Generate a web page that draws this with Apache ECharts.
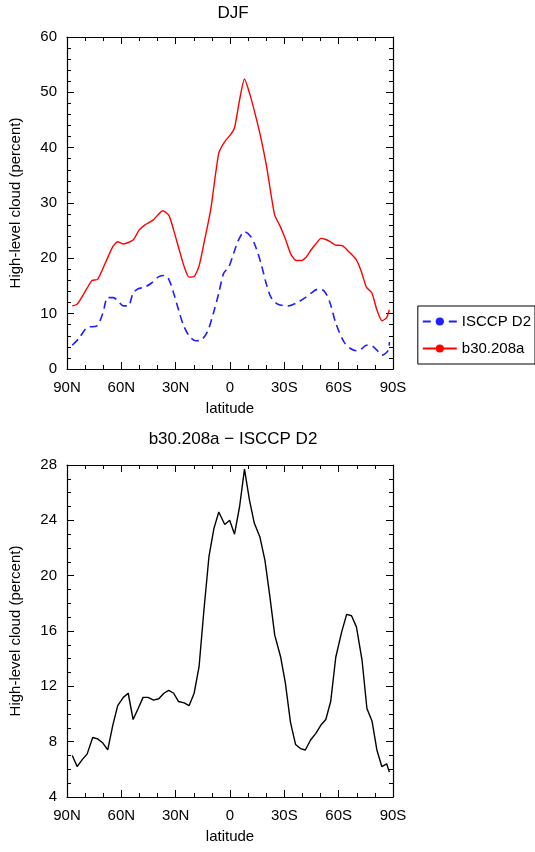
<!DOCTYPE html>
<html>
<head>
<meta charset="utf-8">
<script src="https://cdn.jsdelivr.net/npm/echarts@6/dist/echarts.min.js"></script>
<style>
  html, body { margin: 0; padding: 0; background: #fff; }
  #chart { width: 535px; height: 852px; }
</style>
</head>
<body>
<div id="chart"></div>
<script>
// x = degrees from equator, negative = north, positive = south
var isccpLat = [-87.1, -83.5, -78.9, -73.5, -70.2, -67.5, -64.4, -61.6, -58.9, -56.2, -53.5, -50.7, -47.1, -43.5, -39.3, -36.2, -33.8, -31.1, -28.4, -25.8, -22.6, -18.9, -16.2, -12.5, -8.9, -6.2, -3.5, -0.7, 2.0, 4.7, 8.0, 11.1, 13.8, 17.1, 20.2, 22.9, 26.5, 32.0, 36.5, 41.1, 44.7, 48.4, 52.0, 55.3, 58.4, 62.9, 66.5, 69.8, 72.9, 75.3, 78.4, 81.1, 84.0, 87.4, 88.0];
var isccpVal = [4.3, 5.5, 7.5, 7.8, 10.1, 12.9, 12.9, 12.2, 11.4, 11.4, 13.7, 14.5, 14.8, 15.5, 16.7, 16.9, 16.2, 13.7, 10.7, 8.0, 6.0, 5.1, 5.2, 6.7, 10.4, 13.7, 17.3, 18.4, 20.9, 23.3, 24.8, 24.1, 22.4, 19.1, 15.2, 12.8, 11.7, 11.4, 11.9, 12.8, 13.7, 14.4, 14.1, 11.9, 8.3, 4.9, 3.7, 3.3, 3.7, 4.3, 4.2, 3.4, 2.5, 3.4, 4.9];

var modelLat = [-87.1, -84.4, -81.6, -78.9, -76.2, -73.1, -68.9, -64.7, -62.0, -58.9, -53.5, -50.2, -47.1, -42.5, -37.1, -33.8, -31.1, -28.0, -25.3, -22.6, -19.8, -17.1, -14.4, -10.7, -6.2, -2.9, 0.2, 2.5, 5.6, 8.0, 11.1, 13.8, 16.9, 20.2, 22.0, 24.7, 27.4, 30.5, 33.4, 36.5, 39.3, 42.0, 44.7, 47.4, 50.2, 52.9, 55.3, 58.3, 62.0, 65.6, 69.8, 72.5, 75.3, 78.4, 81.1, 84.0, 86.5, 88.0];
var modelVal = [11.4, 11.7, 13.1, 14.6, 16.0, 16.2, 19.1, 22.1, 23.0, 22.6, 23.3, 25.1, 26.0, 26.9, 28.6, 27.8, 25.1, 21.5, 18.5, 16.6, 16.7, 18.6, 22.7, 28.7, 39.0, 41.1, 42.3, 43.6, 49.2, 52.4, 49.5, 46.2, 42.0, 36.6, 32.9, 27.8, 26.0, 23.6, 20.9, 19.6, 19.6, 20.2, 21.5, 22.6, 23.6, 23.4, 23.0, 22.4, 22.3, 21.2, 19.7, 17.6, 14.8, 13.7, 10.7, 8.7, 9.3, 10.7];

var diffLat = [-87.1, -84.4, -81.6, -78.9, -75.8, -73.1, -70.2, -67.5, -64.7, -62.0, -58.9, -56.2, -53.5, -50.7, -48.0, -45.3, -42.2, -39.3, -36.5, -33.8, -31.1, -28.4, -25.3, -22.6, -19.8, -17.1, -14.4, -11.6, -8.9, -6.2, -2.9, -0.2, 2.5, 5.3, 8.0, 10.7, 13.4, 16.5, 19.3, 22.0, 24.7, 28.0, 30.5, 33.4, 36.2, 38.9, 41.6, 44.4, 47.4, 50.2, 52.9, 55.6, 58.4, 61.6, 64.4, 67.1, 69.8, 72.9, 75.6, 78.4, 81.1, 83.8, 86.5, 88.0];
var diffVal = [7.0, 6.2, 6.7, 7.1, 8.3, 8.2, 7.9, 7.4, 9.2, 10.6, 11.2, 11.5, 9.6, 10.4, 11.2, 11.2, 11.0, 11.1, 11.5, 11.7, 11.5, 10.9, 10.8, 10.6, 11.5, 13.4, 17.5, 21.4, 23.4, 24.6, 23.7, 24.0, 23.0, 25.0, 27.7, 25.5, 23.8, 22.8, 21.1, 18.5, 15.7, 14.1, 12.3, 9.4, 7.8, 7.5, 7.4, 8.1, 8.6, 9.2, 9.6, 10.9, 14.1, 15.9, 17.2, 17.1, 16.3, 13.9, 10.4, 9.5, 7.4, 6.2, 6.4, 5.8];

var latTicks = {'-90': '90N', '-60': '60N', '-30': '30N', '0': '0', '30': '30S', '60': '60S', '90': '90S'};

function zip(a, b) {
  return a.map(function (v, i) { return [v, b[i]]; });
}

var font = 'Liberation Sans';
var axisLine = { onZero: false, lineStyle: { color: '#000', width: 1.2 } };

function xAxes(gi) {
  var base = {
    type: 'value', gridIndex: gi, min: -90, max: 90, interval: 30,
    axisLine: axisLine,
    axisTick: { inside: true, length: 7, lineStyle: { color: '#000' } },
    minorTick: { show: true, splitNumber: 3, length: 4, lineStyle: { color: '#000' } },
    splitLine: { show: false }
  };
  return [
    Object.assign({}, base, {
      position: 'bottom',
      name: 'latitude', nameLocation: 'middle', nameGap: 32,
      nameTextStyle: { fontFamily: font, fontSize: 15, color: '#000' },
      axisLabel: { fontFamily: font, fontSize: 15, color: '#000', margin: 11,
        formatter: function (v) { return latTicks[String(v)]; } }
    }),
    Object.assign({}, base, { position: 'top', axisLabel: { show: false } })
  ];
}

function yAxes(gi, min, max, interval, minor) {
  var base = {
    type: 'value', gridIndex: gi, min: min, max: max, interval: interval,
    axisLine: axisLine,
    axisTick: { inside: true, length: 7, lineStyle: { color: '#000' } },
    minorTick: { show: true, splitNumber: minor, length: 4, lineStyle: { color: '#000' } },
    splitLine: { show: false }
  };
  return [
    Object.assign({}, base, {
      position: 'left',
      name: 'High-level cloud (percent)', nameLocation: 'middle', nameGap: 44,
      nameTextStyle: { fontFamily: font, fontSize: 15, color: '#000' },
      axisLabel: { fontFamily: font, fontSize: 15, color: '#000', margin: 10 }
    }),
    Object.assign({}, base, { position: 'right', axisLabel: { show: false } })
  ];
}

var chart = echarts.init(document.getElementById('chart'));
chart.setOption({
  backgroundColor: '#fff',
  animation: false,
  title: [
    { text: 'DJF', left: 228, top: 0, textAlign: 'center',
      textStyle: { fontFamily: font, fontSize: 17, fontWeight: 'normal', color: '#000' } },
    { text: 'b30.208a \u2212 ISCCP D2', left: 228, top: 426, textAlign: 'center',
      textStyle: { fontFamily: font, fontSize: 17, fontWeight: 'normal', color: '#000' } }
  ],
  grid: [
    { left: 63, width: 330, top: 37, height: 332 },
    { left: 63, width: 330, top: 465, height: 332 }
  ],
  legend: {
    orient: 'vertical', right: 0, top: 306,
    itemWidth: 34, itemHeight: 10, itemGap: 12,
    padding: [8, 4, 8, 4],
    borderColor: '#000', borderWidth: 1,
    textStyle: { fontFamily: font, fontSize: 15, color: '#000' },
    data: ['ISCCP D2', 'b30.208a']
  },
  xAxis: xAxes(0).concat(xAxes(1)),
  yAxis: yAxes(0, 0, 60, 10, 5).concat(yAxes(1, 4, 28, 4, 4)),
  series: [
    { name: 'ISCCP D2', type: 'line', xAxisIndex: 0, yAxisIndex: 0, symbol: 'none', smooth: 0.3,
      data: zip(isccpLat, isccpVal), lineStyle: { color: '#1f1fff', width: 1.6, type: [8, 5] },
      itemStyle: { color: '#1f1fff' } },
    { name: 'b30.208a', type: 'line', xAxisIndex: 0, yAxisIndex: 0, symbol: 'none', smooth: 0.2,
      data: zip(modelLat, modelVal), lineStyle: { color: '#ff0000', width: 1.4 },
      itemStyle: { color: '#ff0000' } },
    { name: 'diff', type: 'line', xAxisIndex: 2, yAxisIndex: 2, symbol: 'none',
      data: zip(diffLat, diffVal), lineStyle: { color: '#000', width: 1.4 } }
  ]
});
</script>
</body>
</html>
